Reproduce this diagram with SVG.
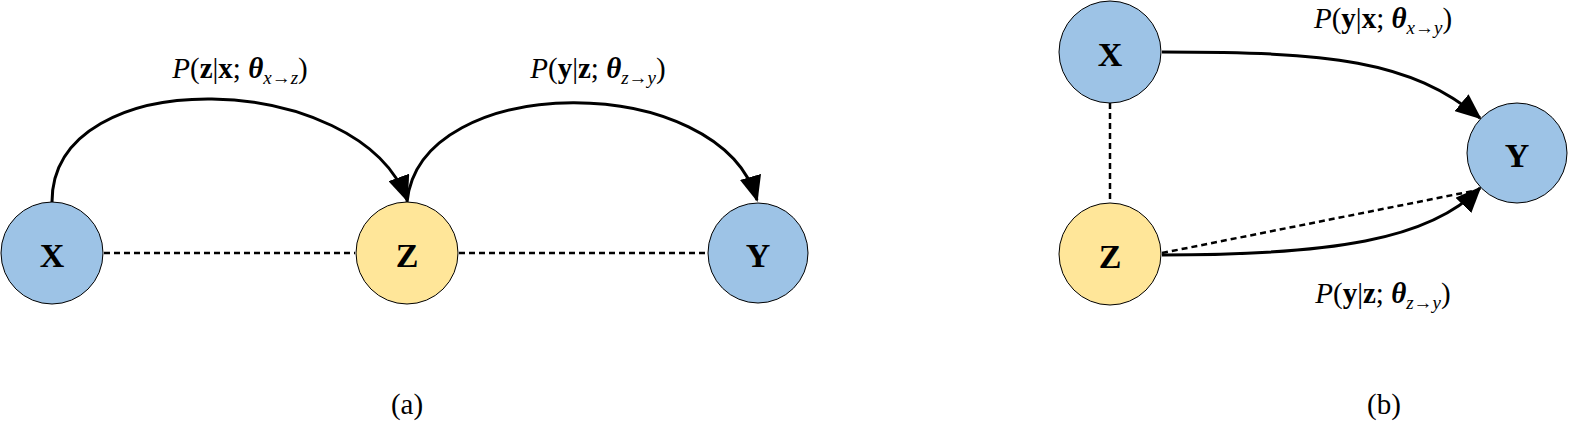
<svg xmlns="http://www.w3.org/2000/svg" width="1571" height="425" viewBox="0 0 1571 425">
<style>
.blue{fill:#9dc3e6;stroke:#000;stroke-width:1}
.yel{fill:#ffe699;stroke:#000;stroke-width:1}
.nl{font-family:"Liberation Serif",serif;font-weight:bold;font-size:34px;text-anchor:middle;dominant-baseline:central}
.lab{font-family:"Liberation Serif",serif;font-size:29px;text-anchor:middle}
.sub{font-size:19px;font-style:italic}
.arr{fill:none;stroke:#000;stroke-width:3;marker-end:url(#ah)}
.dash{fill:none;stroke:#000;stroke-width:2.5;stroke-dasharray:6,4}
</style>
<defs>
<marker id="ah" markerUnits="userSpaceOnUse" viewBox="0 0 26 22" markerWidth="26" markerHeight="22" refX="24" refY="11" orient="auto">
<path d="M0,0 L26,11 L0,22 Z" fill="#000"/>
</marker>
</defs>
<rect width="1571" height="425" fill="#fff"/>
<g id="connectors">
<line class="dash" x1="104" y1="253" x2="355" y2="253"/>
<line class="dash" x1="459" y1="253" x2="707" y2="253"/>
<path class="arr" d="M52,202 C52,60 360,70 407,200"/>
<path class="arr" d="M407,202 C420,70 720,70 757,200"/>
<line class="dash" x1="1110" y1="103" x2="1110" y2="202"/>
<path class="arr" d="M1162,52 C1330,52 1410,60 1480,118"/>
<path class="arr" d="M1162,255 C1330,255 1430,240 1480,188"/>
<line class="dash" x1="1162" y1="253" x2="1478" y2="190"/>
</g>
<g id="nodeXa"><circle class="blue" cx="52" cy="253" r="51"/><text class="nl" x="52" y="255">X</text></g>
<g id="nodeZa"><circle class="yel" cx="407" cy="253" r="51"/><text class="nl" x="407" y="255">Z</text></g>
<g id="nodeYa"><circle class="blue" cx="758" cy="253" r="50"/><text class="nl" x="758" y="255">Y</text></g>
<g id="nodeXb"><circle class="blue" cx="1110" cy="52" r="51"/><text class="nl" x="1110" y="54">X</text></g>
<g id="nodeZb"><circle class="yel" cx="1110" cy="254" r="51"/><text class="nl" x="1110" y="256">Z</text></g>
<g id="nodeYb"><circle class="blue" cx="1517" cy="153" r="50"/><text class="nl" x="1517" y="155">Y</text></g>
<g id="labels">
<text class="lab" x="240" y="78"><tspan font-style="italic">P</tspan>(<tspan font-weight="bold">z</tspan>|<tspan font-weight="bold">x</tspan>; <tspan font-weight="bold" font-style="italic">θ</tspan><tspan class="sub" dy="6">x→z</tspan><tspan dy="-6">)</tspan></text>
<text class="lab" x="598" y="78"><tspan font-style="italic">P</tspan>(<tspan font-weight="bold">y</tspan>|<tspan font-weight="bold">z</tspan>; <tspan font-weight="bold" font-style="italic">θ</tspan><tspan class="sub" dy="6">z→y</tspan><tspan dy="-6">)</tspan></text>
<text class="lab" x="1383" y="28"><tspan font-style="italic">P</tspan>(<tspan font-weight="bold">y</tspan>|<tspan font-weight="bold">x</tspan>; <tspan font-weight="bold" font-style="italic">θ</tspan><tspan class="sub" dy="6">x→y</tspan><tspan dy="-6">)</tspan></text>
<text class="lab" x="1383" y="303"><tspan font-style="italic">P</tspan>(<tspan font-weight="bold">y</tspan>|<tspan font-weight="bold">z</tspan>; <tspan font-weight="bold" font-style="italic">θ</tspan><tspan class="sub" dy="6">z→y</tspan><tspan dy="-6">)</tspan></text>
<text class="lab" x="407" y="414">(a)</text>
<text class="lab" x="1384" y="414">(b)</text>
</g>
</svg>
